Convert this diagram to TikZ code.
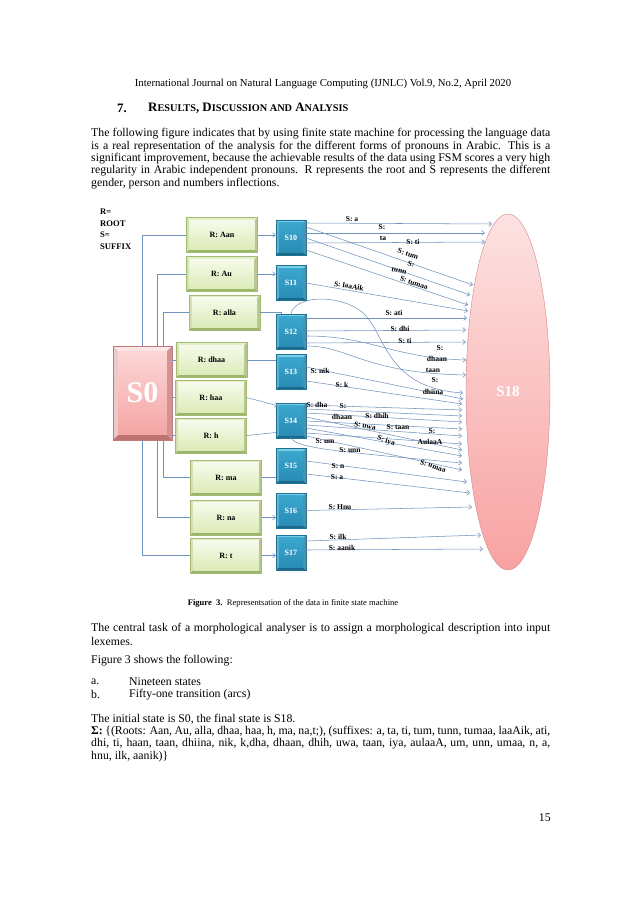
\documentclass[tikz,border=0pt]{standalone}
\usepackage{fontspec}
\setmainfont{Liberation Serif}
\usetikzlibrary{shapes.geometric,arrows.meta,calc}
\newcommand\pxu{0.9324pt}
\newcommand\hsc[2]{#1{\fontsize{9.6}{11}\selectfont #2}}
\definecolor{edgeC}{HTML}{6F92BE}
\definecolor{rootTop}{HTML}{F6FAEA}
\definecolor{rootBot}{HTML}{DCEBB9}
\definecolor{rootLight}{HTML}{E3EFC8}
\definecolor{rootDark}{HTML}{9DB56B}
\definecolor{rootEdge}{HTML}{A3BB72}
\definecolor{sTop}{HTML}{3AA7CF}
\definecolor{sBot}{HTML}{2A8CB4}
\definecolor{sLight}{HTML}{7ACBE6}
\definecolor{sDark}{HTML}{1B6A8C}
\definecolor{sEdge}{HTML}{1F7396}
\definecolor{zTop}{HTML}{FCD6D6}
\definecolor{zBot}{HTML}{F5A5A5}
\definecolor{zLight}{HTML}{FDE6E6}
\definecolor{zDark}{HTML}{BF7272}
\definecolor{zEdge}{HTML}{C07878}
\definecolor{eTop}{HTML}{FDE2E2}
\definecolor{eBot}{HTML}{F8A2A2}
\definecolor{eEdge}{HTML}{D88A8A}
\tikzset{
  bev/.style n args={5}{path picture={
    \fill[#4] (path picture bounding box.north west) -- (path picture bounding box.north east) -- ([xshift=-#1,yshift=-#1]path picture bounding box.north east) -- ([xshift=#1,yshift=-#1]path picture bounding box.north west) -- cycle;
    \fill[#4!75!#5] (path picture bounding box.north west) -- ([xshift=#1,yshift=-#1]path picture bounding box.north west) -- ([xshift=#1,yshift=#1]path picture bounding box.south west) -- (path picture bounding box.south west) -- cycle;
    \fill[#5!75!white] (path picture bounding box.north east) -- ([xshift=-#1,yshift=-#1]path picture bounding box.north east) -- ([xshift=-#1,yshift=#1]path picture bounding box.south east) -- (path picture bounding box.south east) -- cycle;
    \fill[#5] (path picture bounding box.south west) -- ([xshift=#1,yshift=#1]path picture bounding box.south west) -- ([xshift=-#1,yshift=#1]path picture bounding box.south east) -- (path picture bounding box.south east) -- cycle;
    \shade[top color=#2,bottom color=#3] ([xshift=#1,yshift=-#1]path picture bounding box.north west) rectangle ([xshift=-#1,yshift=#1]path picture bounding box.south east);
  }},
  rootbox/.style={rectangle, draw=rootEdge, line width=0.3pt, minimum width=71*\pxu, minimum height=35*\pxu, inner sep=0pt,
    bev={2.6pt}{rootTop}{rootBot}{rootLight}{rootDark}, font=\bfseries\fontsize{7.5}{9}\selectfont},
  sbox/.style={rectangle, draw=sEdge, line width=0.3pt, minimum width=30*\pxu, minimum height=35*\pxu, inner sep=0pt,
    bev={2.6pt}{sTop}{sBot}{sLight}{sDark}, text=white, font=\bfseries\fontsize{7.5}{9}\selectfont},
  zbox/.style={rectangle, draw=zEdge, line width=0.3pt, inner sep=0pt,
    bev={5pt}{zTop}{zBot}{zLight}{zDark}, text=white, font=\bfseries\fontsize{28}{30}\selectfont},
  edge/.style={draw=edgeC, line width=0.5pt},
  arr/.style={-{Straight Barb[length=2.6pt,width=4.4pt]}},
  elab/.style={font=\bfseries\fontsize{7}{8}\selectfont, inner sep=0pt},
  txt/.style={font=\fontsize{11}{13}\selectfont, inner sep=0pt, anchor=west},
}
\begin{document}
\begin{tikzpicture}[x=0.9324pt,y=-0.9324pt]
\fill[white] (0,0) rectangle (638,903);
\useasboundingbox (0,0) rectangle (638,903);

% ---------- page text ----------
\node[font=\fontsize{10}{12}\selectfont, inner sep=0pt] (hdr) at (323,84) {International Journal on Natural Language Computing (IJNLC) Vol.9, No.2, April 2020};
\node[font=\bfseries\fontsize{12}{14}\selectfont, inner sep=0pt, anchor=west] (hnum) at (117,108) {7.};
\node[font=\bfseries\fontsize{12}{14}\selectfont, inner sep=0pt, anchor=west] (htit) at (148,108) {\hsc{R}{ESULTS}, \hsc{D}{ISCUSSION AND} \hsc{A}{NALYSIS}};

\node[txt] (p1) at (91,134) {\makebox[428pt][s]{The following figure indicates that by using finite state machine for processing the language data}};
\node[txt] (p2) at (91,146.3) {\makebox[428pt][s]{is a real representation of the analysis for the different forms of pronouns in Arabic. This is a}};
\node[txt] (p3) at (91,158.6) {\makebox[428pt][s]{significant improvement, because the achievable results of the data using FSM scores a very high}};
\node[txt] (p4) at (91,170.9) {\makebox[428pt][s]{regularity in Arabic independent pronouns. R represents the root and S represents the different}};
\node[txt] (p5) at (91,183.2) {gender, person and numbers inflections.};

% ---------- legend ----------
\node[font=\bfseries\fontsize{8}{10.7}\selectfont, inner sep=0pt, anchor=north west, align=left] (leg) at (100,209) {R=\\ROOT\\S=\\SUFFIX};

% ---------- final state ----------
\node[ellipse, draw=eEdge, line width=0.4pt, top color=eTop, bottom color=eBot, minimum width=84*\pxu, minimum height=356*\pxu, text=white, font=\bfseries\fontsize{14}{16}\selectfont] (S18) at (508,392) {S18};

% ---------- boxes ----------
\node[zbox, minimum width=59*\pxu, minimum height=94*\pxu] (S0) at (142.5,393) {S0};

\node[rootbox] (RAan) at (222,235) {R: Aan};
\node[rootbox] (RAu) at (221.5,274) {R: Au};
\node[rootbox] (Ralla) at (224.5,312.5) {R: alla};
\node[rootbox] (Rdhaa) at (211.5,360) {R: dhaa};
\node[rootbox] (Rhaa) at (211,397.5) {R: haa};
\node[rootbox] (Rh) at (211,435.5) {R: h};
\node[rootbox] (Rma) at (226,477.5) {R: ma};
\node[rootbox] (Rna) at (226,517.5) {R: na};
\node[rootbox] (Rt) at (226,555.5) {R: t};

\node[sbox] (S10) at (291,237.5) {S10};
\node[sbox] (S11) at (291,283) {S11};
\node[sbox] (S12) at (291,331.5) {S12};
\node[sbox] (S13) at (291,372) {S13};
\node[sbox] (S14) at (291,420.5) {S14};
\node[sbox] (S15) at (291,466) {S15};
\node[sbox] (S16) at (291,510.5) {S16};
\node[sbox] (S17) at (291,552.5) {S17};

% ---------- S0 -> roots ----------
\draw[edge] (S0.north) |- (RAan.west);
\draw[edge] ($(S0.north)+(15,0)$) |- (RAu.west);
\draw[edge] ($(S0.north)+(21,0)$) |- (Ralla.west);
\draw[edge] (S0.south) |- (Rt.west);
\draw[edge] ($(S0.south)+(15,0)$) |- (Rna.west);
\draw[edge] ($(S0.south)+(21,0)$) |- (Rma.west);
\draw[edge] (S0.east |- Rdhaa.west) -- (Rdhaa.west);
\draw[edge] (S0.east |- Rhaa.west) -- (Rhaa.west);
\draw[edge] (S0.east |- Rh.west) -- (Rh.west);

% ---------- roots -> suffix states ----------
\draw[edge,arr] (RAan.east) -- (RAan.east -| S10.west);
\draw[edge,arr] (RAu.east) -- (RAu.east -| S11.west);
\draw[edge] (Ralla.east) -| ($(S12.north west)+(5,0)$);
\draw[edge] (Rdhaa.east) -- (Rdhaa.east -| S13.west);
\draw[edge,arr] (Rhaa.east) -- ($(S14.north west)+(2,3)$);
\draw[edge] (Rh.east) -- ($(S14.west)+(0,12)$);
\draw[edge] (Rma.east) -- (Rma.east -| S15.west);
\draw[edge,arr] (Rna.east) -- (Rna.east -| S16.west);
\draw[edge,arr] (Rt.east) -- (Rt.east -| S17.west);

% ---------- end points at S18 ----------
\coordinate (e1) at (492,224);
\coordinate (e2) at (485,233);
\coordinate (e3) at (485,242);
\coordinate (e4) at (473,285);
\coordinate (e5) at (470,295);
\coordinate (e6) at (468,305);
\coordinate (e7) at (468,311);
\coordinate (e8) at (467,318);
\coordinate (e9) at (466,330);
\coordinate (e10) at (466,342);
\coordinate (e11) at (466,360);
\coordinate (e12) at (466,375);
\coordinate (e13) at (463,393);
\coordinate (e14) at (463,399);
\coordinate (e15) at (462,404);
\coordinate (e16) at (462,410);
\coordinate (e17) at (462,416);
\coordinate (e18) at (462,422);
\coordinate (e19) at (462,429);
\coordinate (e20) at (462,436);
\coordinate (e21) at (462,444);
\coordinate (e22) at (462,450);
\coordinate (e23) at (462,456);
\coordinate (e24) at (462,463);
\coordinate (e25) at (462,470);
\coordinate (e26) at (467,482);
\coordinate (e27) at (470,493);
\coordinate (e28) at (472,507);
\coordinate (e29) at (481,535);
\coordinate (e30) at (483,549);

% S10
\draw[edge,arr] (S10.east |- 0,223) -- (e1);
\draw[edge,arr] (S10.east |- 0,233) -- (e2);
\draw[edge,arr] (S10.east |- 0,243) -- (e3);
\draw[edge,arr] (S10.east |- 0,227) -- (e4);
\draw[edge,arr] (S10.east |- 0,238) -- (e5);
\draw[edge,arr] (S10.east |- 0,250) -- (e6);
% S11
\draw[edge,arr] (S11.east) -- (e7);
% S12
\draw[edge,arr] (S12.east |- 0,318) -- (e8);
\draw[edge,arr] (S12.east |- 0,331) -- (e9);
\draw[edge,arr] (S12.east |- 0,343) -- (e10);
\draw[edge,arr] (S12.east |- 0,336) .. controls (372,336) and (392,358) .. (e11);
\draw[edge,arr] (S12.east |- 0,346) .. controls (350,346) and (362,373) .. (e12);
\draw[edge,arr] (S12.north) .. controls (294,296) and (338,293) .. (362,312) .. controls (386,332) and (384,388) .. (e13);
% S13
\draw[edge,arr] (S13.east |- 0,367) -- (e14);
\draw[edge,arr] (S13.east |- 0,381) -- (e15);
% S14
\draw[edge,arr] (S14.east |- 0,405) -- (e16);
\draw[edge,arr] (S14.east |- 0,409) -- (e17);
\draw[edge,arr] (S14.east |- 0,413) -- (e18);
\draw[edge,arr] (S14.east |- 0,421) -- (e19);
\draw[edge,arr] (S14.east |- 0,425) -- (e20);
\draw[edge,arr] (S14.east |- 0,433) -- (e21);
\draw[edge,arr] (S14.east |- 0,417) -- (e22);
\draw[edge,arr] (S14.east |- 0,428) -- (e23);
\draw[edge,arr] (S14.south) .. controls (298,448) and (330,451) .. (e24);
\draw[edge,arr] (S14.east |- 0,436) -- (e25);
% S15
\draw[edge,arr] (S15.east |- 0,461) -- (e26);
\draw[edge,arr] (S15.east |- 0,474) -- (e27);
% S16
\draw[edge,arr] (S16.east) -- (e28);
% S17
\draw[edge,arr] (S17.east |- 0,541) -- (e29);
\draw[edge,arr] (S17.east |- 0,550) -- (e30);

% ---------- edge labels ----------
\node[elab] (l1) at (352,219) {S: a};
\node[elab] (l2a) at (382,227) {S:};
\node[elab] (l2b) at (383,238) {ta};
\node[elab] (l3) at (413,242) {S: ti};
\node[elab, rotate=-19] (l4) at (408,254) {S: tum};
\node[elab, rotate=-19] (l5a) at (411,264) {S:};
\node[elab, rotate=-12] (l5b) at (399,271) {tunn};
\node[elab, rotate=-19] (l6) at (414,283) {S: tumaa};
\node[elab, rotate=-9] (l7) at (349,286) {S: laaAik};
\node[elab] (l8) at (394,313) {S: ati};
\node[elab] (l9) at (400,329) {S: dhi};
\node[elab] (l10) at (405,341) {S: ti};
\node[elab] (l11a) at (440,348) {S:};
\node[elab] (l11b) at (437,359) {dhaan};
\node[elab] (l12) at (433,370) {taan};
\node[elab] (l13a) at (435,380) {S:};
\node[elab] (l13b) at (433,392) {dhiina};
\node[elab] (l14) at (320,371) {S: nik};
\node[elab] (l15) at (342,385) {S: k};
\node[elab] (l16) at (317,405) {S: dha};
\node[elab] (l17a) at (343,406) {S:};
\node[elab] (l17b) at (342,417) {dhaan};
\node[elab] (l18) at (377,416) {S: dhih};
\node[elab] (l19) at (398,427) {S: taan};
\node[elab] (l20a) at (432,431) {S:};
\node[elab] (l20b) at (430,442) {AulaaA};
\node[elab] (l21) at (325,441) {S: um};
\node[elab, rotate=-12] (l22) at (365,426) {S: uwa};
\node[elab, rotate=-18] (l23) at (386,441) {S: iya};
\node[elab] (l24) at (350,450) {S: unn};
\node[elab, rotate=-18] (l25) at (433,466) {S: umaa};
\node[elab] (l26) at (338,466) {S: n};
\node[elab] (l27) at (337,477) {S: a};
\node[elab] (l28) at (340,507) {S: Hnu};
\node[elab] (l29) at (338,537) {S: ilk};
\node[elab] (l30) at (342,548) {S: aanik};

% ---------- caption and text below ----------
\node[font=\fontsize{8}{10}\selectfont, inner sep=0pt] (cap) at (293,603) {\textbf{Figure\ \ 3.}\ \ Representsation of the data in finite state machine};

\node[txt] (q1) at (91,629) {\makebox[428pt][s]{The central task of a morphological analyser is to assign a morphological description into input}};
\node[txt] (q2) at (91,641.5) {lexemes.};
\node[txt] (q3) at (91,661) {Figure 3 shows the following:};
\node[txt] (q4) at (91,682) {a.};
\node[txt] (q4b) at (129,682) {Nineteen states};
\node[txt] (q5) at (91,694.5) {b.};
\node[txt] (q5b) at (129,694.5) {Fifty-one transition (arcs)};
\node[txt] (q6) at (91,719) {The initial state is S0, the final state is S18.};
\node[txt] (q7) at (91,731.5) {\makebox[428pt][s]{\textbf{Σ:} \{(Roots: Aan, Au, alla, dhaa, haa, h, ma, na,t;), (suffixes: a, ta, ti, tum, tunn, tumaa, laaAik, ati,}};
\node[txt] (q8) at (91,744) {\makebox[428pt][s]{dhi, ti, haan, taan, dhiina, nik, k,dha, dhaan, dhih, uwa, taan, iya, aulaaA, um, unn, umaa, n, a,}};
\node[txt] (q9) at (91,756.5) {hnu, ilk, aanik)\}};
\node[font=\fontsize{11}{13}\selectfont, inner sep=0pt, anchor=east] (pg) at (551,818) {15};
\end{tikzpicture}
\end{document}
